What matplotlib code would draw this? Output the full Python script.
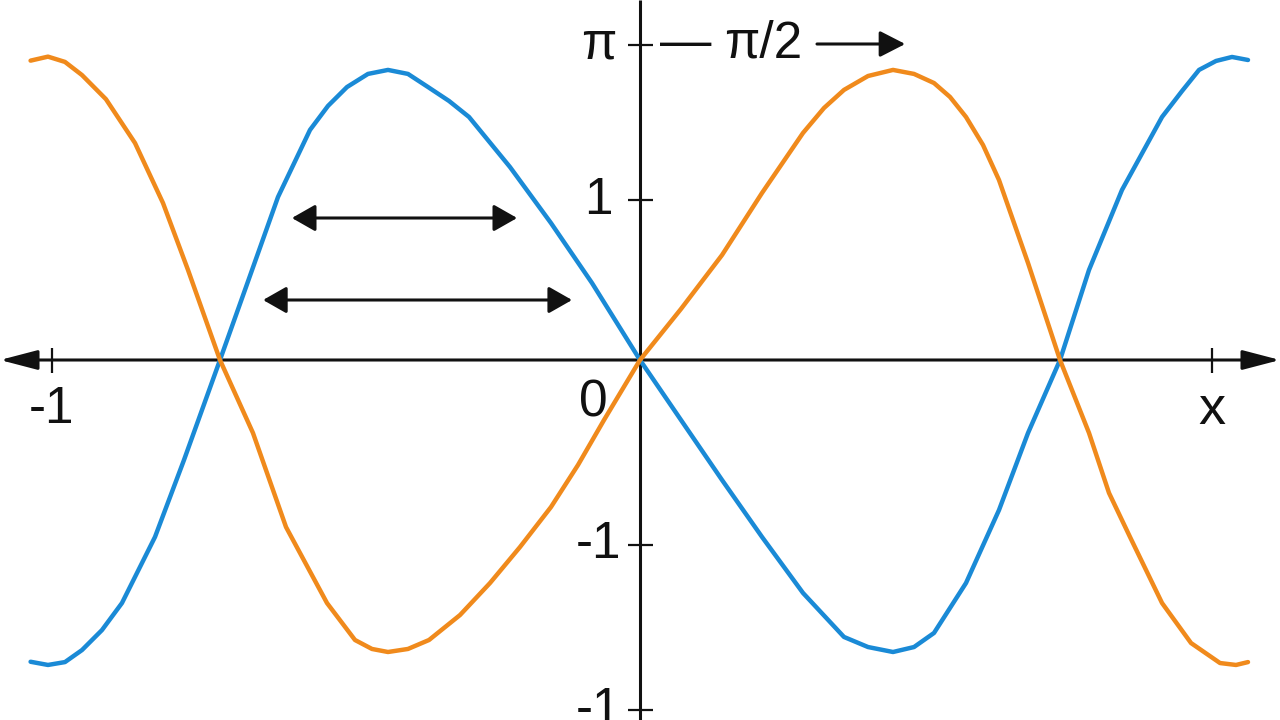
import matplotlib
matplotlib.use("Agg")
import matplotlib.pyplot as plt

plt.rcParams['font.family'] = ['Liberation Sans', 'DejaVu Sans']

# ---- data ----
blue_x = [-1.0364, -1.0068, -0.9779, -0.9490, -0.9150, -0.8810, -0.8248, -0.7755, -0.7143,
          -0.6718, -0.6156, -0.5612, -0.5306, -0.4983, -0.4626, -0.4286, -0.3946, -0.3605,
          -0.3248, -0.2908, -0.2211, -0.1514, -0.0816, 0.0,
          0.0697, 0.1395, 0.2075, 0.2772, 0.3469, 0.3878, 0.4303, 0.4660, 0.5000, 0.5544,
          0.6105, 0.6599, 0.7143, 0.7636, 0.8197, 0.8878, 0.9218, 0.9507, 0.9796, 1.0068, 1.0340]
blue_y = [-1.886, -1.906, -1.888, -1.813, -1.688, -1.519, -1.106, -0.625, 0.0,
          0.438, 1.019, 1.438, 1.588, 1.706, 1.788, 1.813, 1.788, 1.706,
          1.619, 1.519, 1.206, 0.856, 0.481, 0.0,
          -0.375, -0.750, -1.106, -1.456, -1.731, -1.794, -1.825, -1.794, -1.706, -1.394,
          -0.938, -0.456, 0.0, 0.563, 1.063, 1.519, 1.681, 1.813, 1.869, 1.894, 1.875]

orange_x = [-1.0364, -1.0068, -0.9779, -0.9490, -0.9082, -0.8588, -0.8112, -0.7687, -0.7143,
            -0.6582, -0.6020, -0.5323, -0.4847, -0.4558, -0.4286, -0.3946, -0.3588, -0.3061,
            -0.2551, -0.2041, -0.1514, -0.1054, -0.0612, 0.0,
            0.0697, 0.1395, 0.2075, 0.2772, 0.3129, 0.3469, 0.3878, 0.4303, 0.4660, 0.5000,
            0.5272, 0.5544, 0.5833, 0.6105, 0.6599, 0.7143, 0.7636, 0.7976, 0.8333, 0.8878,
            0.9371, 0.9864, 1.0136, 1.0340]
orange_y = [1.871, 1.896, 1.863, 1.781, 1.630, 1.356, 0.981, 0.563, 0.0,
            -0.456, -1.044, -1.519, -1.750, -1.806, -1.825, -1.806, -1.750, -1.594,
            -1.394, -1.169, -0.919, -0.656, -0.375, 0.0,
            0.319, 0.656, 1.044, 1.419, 1.575, 1.688, 1.775, 1.813, 1.788, 1.731,
            1.644, 1.519, 1.344, 1.125, 0.606, 0.0, -0.456, -0.831, -1.106, -1.519,
            -1.769, -1.894, -1.906, -1.888]

x_ticks = [-1.0, 0.973]
y_ticks = [1.969, 1.0, -1.156, -2.1875]
y_labels = ['π', '1', '-1', '-1']

fig = plt.figure(figsize=(12.8, 7.2), dpi=100)
ax = fig.add_axes([0, 0, 1, 1])
ax.set_xlim(-1.0884, 1.0884)
ax.set_ylim(-2.25, 2.25)
ax.axis('off')

# axes
ax.annotate('', xy=(1.0884, 0), xytext=(-1.0884, 0),
            arrowprops=dict(arrowstyle='<|-|>,head_length=1.15,head_width=0.3',
                            mutation_scale=20, lw=2.2, color='#111111',
                            shrinkA=0, shrinkB=0), zorder=3)
ax.plot([0, 0], [-2.25, 2.25], color='#111111', lw=2.2, zorder=3, solid_capstyle='butt')

# ticks
ax.plot(x_ticks, [0] * len(x_ticks), ls='none', marker='|', ms=18, mew=1.6,
        color='#111111', zorder=3)
ax.plot([0] * len(y_ticks), y_ticks, ls='none', marker='_', ms=18, mew=1.6,
        color='#111111', zorder=3)

# curves
ax.plot(blue_x, blue_y, color='#1a8ad6', lw=3.2, solid_capstyle='round',
        solid_joinstyle='round', zorder=4)
ax.plot(orange_x, orange_y, color='#f08a1c', lw=3.2, solid_capstyle='round',
        solid_joinstyle='round', zorder=4)

fs = 37
# tick labels
ax.text(-1.0, -0.31, '-1', fontsize=fs, ha='center', va='center', color='#111111')
ax.text(-0.080, -0.27, '0', fontsize=fs, ha='center', va='center', color='#111111')
ax.text(0.973, -0.31, 'x', fontsize=fs + 2, ha='center', va='center', color='#111111')
for yt, lab in zip(y_ticks, y_labels):
    ax.text(-0.071, yt, lab, fontsize=fs, ha='center', va='center', color='#111111')

# top annotation
ax.text(0.078, 1.975, '—', fontsize=fs, ha='center', va='center', color='#111111')
ax.text(0.209, 1.975, 'π/2', fontsize=fs, ha='center', va='center', color='#111111')
ax.annotate('', xy=(0.451, 1.975), xytext=(0.301, 1.975),
            arrowprops=dict(arrowstyle='-|>,head_length=0.78,head_width=0.4',
                            mutation_scale=20, lw=2.2, color='#111111',
                            shrinkA=0, shrinkB=0))

# double arrows
ax.annotate('', xy=(-0.209, 0.8875), xytext=(-0.592, 0.8875),
            arrowprops=dict(arrowstyle='<|-|>,head_length=0.72,head_width=0.41',
                            mutation_scale=20, lw=2.2, color='#111111',
                            shrinkA=0, shrinkB=0))
ax.annotate('', xy=(-0.1156, 0.375), xytext=(-0.641, 0.375),
            arrowprops=dict(arrowstyle='<|-|>,head_length=0.72,head_width=0.41',
                            mutation_scale=20, lw=2.2, color='#111111',
                            shrinkA=0, shrinkB=0))

fig.savefig('out.png', dpi=100)
